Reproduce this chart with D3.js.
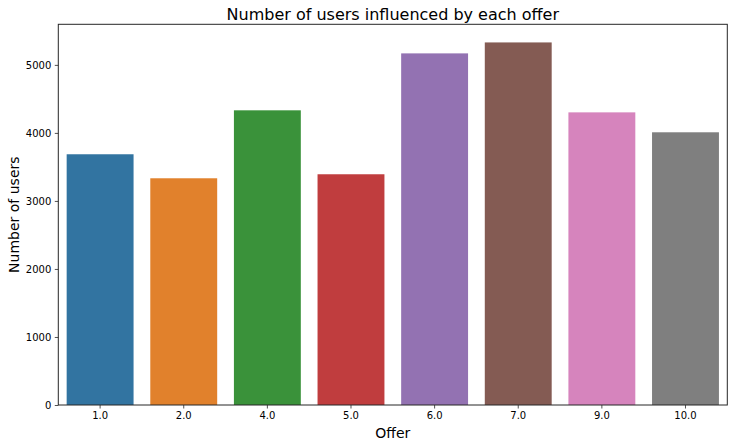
<!DOCTYPE html>
<html>
<head>
<meta charset="utf-8">
<script src="https://cdn.jsdelivr.net/npm/d3@7"></script>
<style>
  html, body { margin: 0; padding: 0; background: #fff; }
  text { font-family: "DejaVu Sans", sans-serif; fill: #000; }
</style>
</head>
<body>
<svg id="chart" width="734" height="447"></svg>
<script>
const categories = ["1.0", "2.0", "4.0", "5.0", "6.0", "7.0", "9.0", "10.0"];
const values = [3686, 3333, 4332, 3392, 5169, 5330, 4302, 4009];
const colors = ["#3274a1", "#e1812c", "#3a923a", "#c03d3e", "#9372b2", "#845b53", "#d684bd", "#7f7f7f"];
const yTicks = [0, 1000, 2000, 3000, 4000, 5000];

const svg = d3.select("#chart");
const mLeft = 58.3, mRight = 727.3, mTop = 24.3, mBottom = 405;

const x = d3.scaleBand().domain(categories).range([mLeft, mRight]).paddingInner(0.2).paddingOuter(0.1);
const y = d3.scaleLinear().domain([0, d3.max(values) * 1.05]).range([mBottom, mTop]);

svg.append("g").selectAll("rect").data(values).join("rect")
  .attr("x", (d, i) => x(categories[i]))
  .attr("width", x.bandwidth())
  .attr("y", d => y(d))
  .attr("height", d => y(0) - y(d))
  .attr("fill", (d, i) => colors[i]);

const xAxis = svg.append("g").attr("transform", `translate(0,${mBottom})`)
  .call(d3.axisBottom(x).tickSize(3.5).tickPadding(3.5).tickSizeOuter(0));
const yAxis = svg.append("g").attr("transform", `translate(${mLeft},0)`)
  .call(d3.axisLeft(y).tickValues(yTicks).tickFormat(d3.format("d")).tickSize(3.5).tickPadding(3.5).tickSizeOuter(0));
[xAxis, yAxis].forEach(g => {
  g.select(".domain").remove();
  g.selectAll("line").attr("stroke", "#262626").attr("stroke-width", 0.8);
  g.selectAll("text").attr("font-size", "10px").attr("fill", "#262626").style("font-family", "DejaVu Sans, sans-serif");
});

// frame
svg.append("rect").attr("x", mLeft).attr("y", mTop).attr("width", mRight - mLeft).attr("height", mBottom - mTop)
  .attr("fill", "none").attr("stroke", "#262626").attr("stroke-width", 1);

svg.append("text").attr("x", (mLeft + mRight) / 2).attr("y", 19.5).attr("text-anchor", "middle")
  .attr("font-size", "16px").text("Number of users influenced by each offer");
svg.append("text").attr("x", (mLeft + mRight) / 2).attr("y", 438).attr("text-anchor", "middle")
  .attr("font-size", "14px").attr("fill", "#262626").text("Offer");
svg.append("text").attr("transform", `translate(18.5,${(mTop + mBottom) / 2}) rotate(-90)`).attr("text-anchor", "middle")
  .attr("font-size", "14px").attr("fill", "#262626").text("Number of users");
</script>
</body>
</html>
